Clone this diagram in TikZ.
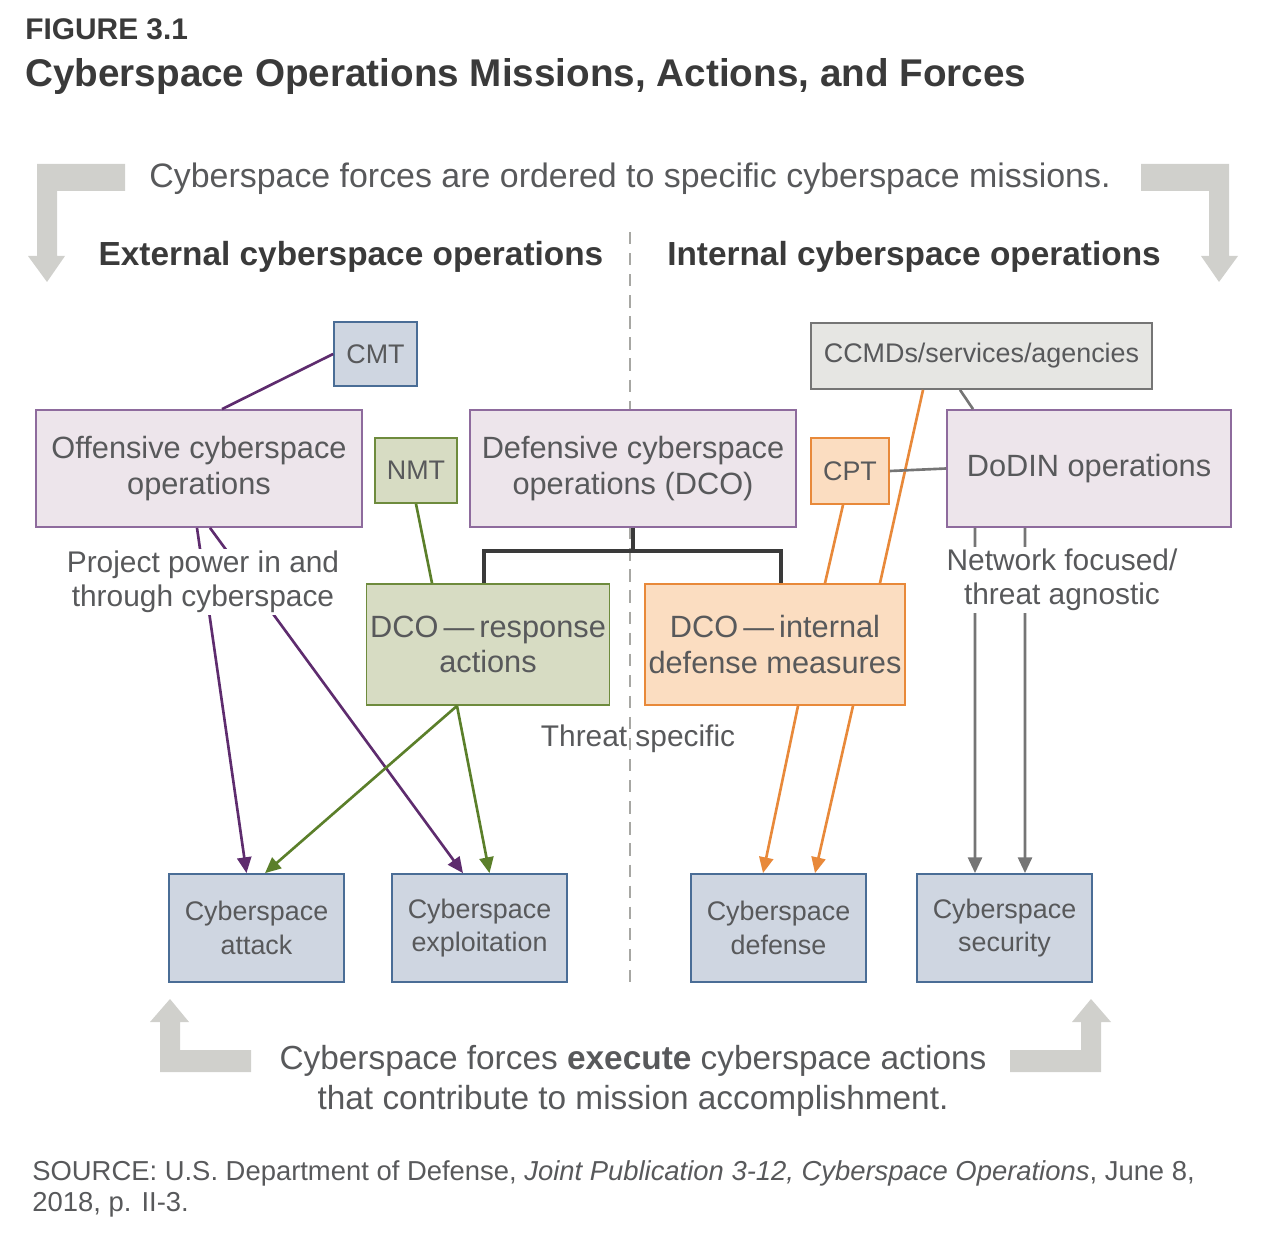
\documentclass[tikz,border=0pt]{standalone}
\usepackage{fontspec}
\setmainfont{Liberation Sans}
\usepackage{xcolor}
\usetikzlibrary{arrows.meta,positioning}
\definecolor{txt}{HTML}{58595B}
\definecolor{dark}{HTML}{3A3A3A}
\definecolor{bigarrow}{HTML}{D0D0CC}
\definecolor{bluefill}{HTML}{CFD6E1}
\definecolor{blueline}{HTML}{4A6D96}
\definecolor{purfill}{HTML}{EDE5EB}
\definecolor{purline}{HTML}{8E6B9D}
\definecolor{purarrow}{HTML}{5E2C6E}
\definecolor{grnfill}{HTML}{D7DCC3}
\definecolor{grnline}{HTML}{6E8B3D}
\definecolor{grnarrow}{HTML}{5B7F2A}
\definecolor{orgfill}{HTML}{FBDDC1}
\definecolor{orgline}{HTML}{E8893A}
\definecolor{grayfill}{HTML}{E6E6E3}
\definecolor{grayline}{HTML}{757575}
\tikzset{
  box/.style={draw, line width=1pt, align=center, text=txt, font=\fontsize{17.5}{20}\selectfont, inner sep=2pt},
  mission/.style={box, fill=purfill, draw=purline, minimum width=6.52cm, minimum height=2.34cm},
  action/.style={box, fill=bluefill, draw=blueline, minimum width=3.5cm, minimum height=2.16cm, font=\fontsize{15.3}{19}\selectfont},
  force/.style={box, font=\fontsize{15.3}{18}\selectfont, minimum height=1.3cm},
  note/.style={text=txt, align=center, font=\fontsize{17}{19.5}\selectfont},
  tip/.style={-{Triangle[length=9pt,width=8pt]}},
  link/.style={line width=1.5pt},
}
\begin{document}
\begin{tikzpicture}[x=0.02cm, y=-0.02cm]
\useasboundingbox (0,0) rectangle (1270,1256);
% titles
\node (fig) [anchor=west, inner sep=0pt, text=dark, font=\fontsize{17}{20}\selectfont\bfseries] at (25,29) {FIGURE 3.1};
\node (title) [anchor=west, inner sep=0pt, text=dark, font=\fontsize{22}{26}\selectfont\bfseries] at (25,77) {Cyberspace Operations Missions, Actions, and Forces};
\node (top) [text=txt, font=\fontsize{19.3}{22}\selectfont] at (630,179) {Cyberspace forces are ordered to specific cyberspace missions.};
\node (ext) [text=dark, font=\fontsize{19}{22}\selectfont\bfseries] at (351,257) {External cyberspace operations};
\node (int) [text=dark, font=\fontsize{19}{22}\selectfont\bfseries] at (914,257) {Internal cyberspace operations};

% big gray arrows
\fill[bigarrow] (37,164) -- (125,164) -- (125,191) -- (57,191) -- (57,256) -- (65,256) -- (47,282) -- (28,256) -- (37,256) -- cycle;
\fill[bigarrow] (1229,164) -- (1141,164) -- (1141,191) -- (1209,191) -- (1209,256) -- (1201,256) -- (1219,282) -- (1238,256) -- (1229,256) -- cycle;
\fill[bigarrow] (251,1050) -- (180,1050) -- (180,1022) -- (189,1022) -- (170,999) -- (150,1022) -- (160,1022) -- (160,1072) -- (251,1072) -- cycle;
\fill[bigarrow] (1010,1050) -- (1081,1050) -- (1081,1022) -- (1072,1022) -- (1091,999) -- (1111,1022) -- (1101,1022) -- (1101,1072) -- (1010,1072) -- cycle;

% divider
\draw[bigarrow!80!black, line width=1.5pt, dash pattern=on 7pt off 5pt] (630,232) -- (630,982);

% forces
\node (cmt) [force, fill=bluefill, draw=blueline, minimum width=1.66cm, minimum height=1.28cm] at (375.5,354) {CMT};
\node (nmt) [force, fill=grnfill, draw=grnline, minimum width=1.64cm] at (416,470.5) {NMT};
\node (ccmd) [force, fill=grayfill, draw=grayline, minimum width=6.82cm, minimum height=1.32cm] at (981.5,356) {CCMDs/services/agencies};
\node (cpt) [force, fill=orgfill, draw=orgline, minimum width=1.56cm, minimum height=1.32cm] at (850,471) {CPT};

% missions
\node (oco) [mission] at (199,468.5) {Offensive cyberspace\\operations};
\node (dco) [mission] at (633,468.5) {Defensive cyberspace\\operations (DCO)};
\node (dodin) [mission, minimum width=5.68cm] at (1089,468.5) {DoDIN operations};
\node (resp) [box, fill=grnfill, draw=grnline, minimum width=4.8cm, minimum height=2.42cm] at (488,644.5) {DCO\,---\,response\\actions};
\node (idm) [box, fill=orgfill, draw=orgline, minimum width=4.8cm, minimum height=2.42cm] at (775,644.5) {DCO\,---\,internal\\defense measures};

% actions
\node (attack) [action] at (256.5,928) {Cyberspace\\attack};
\node (exploit) [action] at (479.5,928) {Cyberspace\\exploitation};
\node (defense) [action] at (778.5,928) {Cyberspace\\defense};
\node (security) [action] at (1004.5,928) {Cyberspace\\security};

% connectors
\draw[link, purarrow] (cmt.west) -- ([xshift=0.46cm]oco.north);
\draw[link, purarrow, tip] ([xshift=-0.04cm]oco.south) -- ([xshift=-0.2cm]attack.north);
\draw[link, purarrow, tip] ([xshift=0.22cm]oco.south) -- ([xshift=-0.33cm]exploit.north);
\draw[link, grnarrow] (nmt.south) -- ([xshift=-1.12cm]resp.north);
\draw[link, grnarrow, tip] ([xshift=-0.62cm]resp.south) -- ([xshift=0.17cm]attack.north);
\draw[link, grnarrow, tip] ([xshift=-0.62cm]resp.south) -- ([xshift=0.2cm]exploit.north);
\draw[line width=2pt, dark] (dco.south) -- ++(0,23) -| ([xshift=-0.08cm]resp.north);
\draw[line width=2pt, dark] (dco.south) -- ++(0,23) -| ([xshift=0.12cm]idm.north);
\draw[link, orgline] ([xshift=-0.14cm]cpt.south) -- ([xshift=1.0cm]idm.north);
\draw[link, orgline] ([xshift=-1.17cm]ccmd.south) -- ([xshift=2.1cm]idm.north);
\draw[link, grayline] ([xshift=-0.43cm]ccmd.south) -- ([xshift=-2.32cm]dodin.north);
\draw[link, grayline] (cpt.east) -- (dodin.west);
\draw[link, orgline, tip] ([xshift=0.46cm]idm.south) -- ([xshift=-0.31cm]defense.north);
\draw[link, orgline, tip] ([xshift=1.56cm]idm.south) -- ([xshift=0.73cm]defense.north);
\draw[link, grayline, tip] ([xshift=-2.28cm]dodin.south) -- ([xshift=-0.59cm]security.north);
\draw[link, grayline, tip] ([xshift=-1.28cm]dodin.south) -- ([xshift=0.41cm]security.north);

% labels
\node (power) [note, fill=white, inner sep=1pt] at (203,582) {Project power in and\\through cyberspace};
\node (agn) [note, fill=white, inner sep=1pt] at (1062,580) {Network focused/\\threat agnostic};
\node (threat) [note] at (638,739) {Threat specific};

% bottom
\node (exec) [text=txt, align=center, font=\fontsize{19}{23}\selectfont] at (633,1081) {Cyberspace forces \textbf{execute} cyberspace actions\\that contribute to mission accomplishment.};
\node (src) [anchor=north west, inner sep=0pt, text=txt, align=left, font=\fontsize{15.6}{18}\selectfont] at (32,1160) {SOURCE: U.S. Department of Defense, \textit{Joint Publication 3-12, Cyberspace Operations}, June 8,\\2018, p. II-3.};
\end{tikzpicture}
\end{document}
